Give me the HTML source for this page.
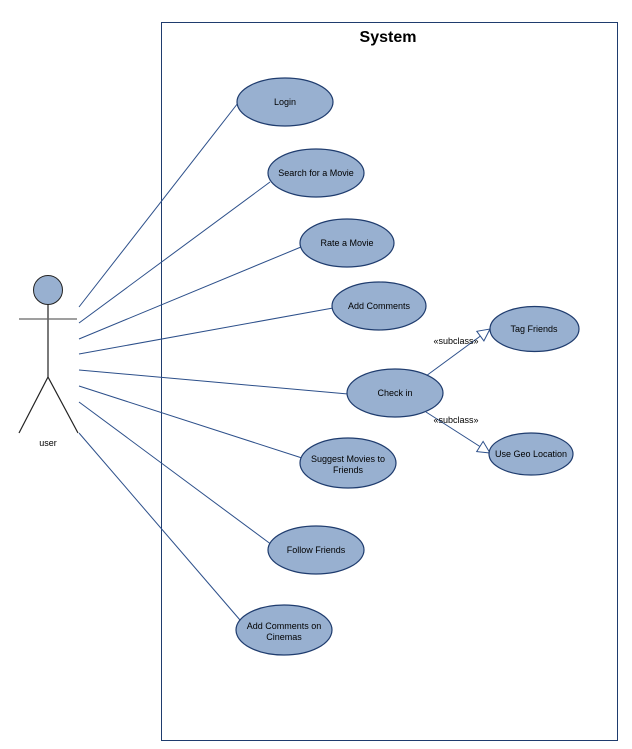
<!DOCTYPE html>
<html><head><meta charset="utf-8"><style>body{margin:0;background:#fff}svg{display:block}</style></head>
<body>
<svg width="632" height="749" viewBox="0 0 632 749" xmlns="http://www.w3.org/2000/svg" font-family="Liberation Sans, sans-serif">
<rect x="161.5" y="22.5" width="456" height="718" fill="#fff" stroke="#1f3c6e" stroke-width="1"/>
<text x="388" y="42" font-size="16" font-weight="bold" text-anchor="middle">System</text>
<g stroke="#2c4f8a" stroke-width="1" fill="none">
<line x1="79" y1="307" x2="238" y2="103"/>
<line x1="79" y1="323" x2="270" y2="182"/>
<line x1="79" y1="339" x2="301" y2="247"/>
<line x1="79" y1="354" x2="333" y2="308"/>
<line x1="79" y1="370" x2="348" y2="394"/>
<line x1="79" y1="386" x2="302" y2="458"/>
<line x1="79" y1="402" x2="272" y2="545"/>
<line x1="79" y1="433" x2="240" y2="620"/>
<line x1="426" y1="376" x2="480.3" y2="336.1"/>
<line x1="426" y1="412" x2="479.9" y2="446.5"/>
</g>
<g fill="#fff" stroke="#2c4f8a" stroke-width="1">
<polygon points="490,329 483.9,340.9 476.8,331.3"/>
<polygon points="490,453 476.7,451.6 483.1,441.4"/>
</g>
<g fill="#98b0d0" stroke="#1f3c6e" stroke-width="1.2">
<ellipse cx="285" cy="102" rx="48" ry="24"/>
<ellipse cx="316" cy="173" rx="48" ry="24"/>
<ellipse cx="347" cy="243" rx="47" ry="24"/>
<ellipse cx="379" cy="306" rx="47" ry="24"/>
<ellipse cx="395" cy="393" rx="48" ry="24"/>
<ellipse cx="534.5" cy="329" rx="44.5" ry="22.5"/>
<ellipse cx="531" cy="454" rx="42" ry="21"/>
<ellipse cx="348" cy="463" rx="48" ry="25"/>
<ellipse cx="316" cy="550" rx="48" ry="24"/>
<ellipse cx="284" cy="630" rx="48" ry="25"/>
</g>
<g font-size="9" text-anchor="middle" fill="#000">
<text x="285" y="105">Login</text>
<text x="316" y="176">Search for a Movie</text>
<text x="347" y="246">Rate a Movie</text>
<text x="379" y="309">Add Comments</text>
<text x="395" y="396">Check in</text>
<text x="534" y="332">Tag Friends</text>
<text x="531" y="457">Use Geo Location</text>
<text x="348" y="462">Suggest Movies to</text>
<text x="348" y="473">Friends</text>
<text x="316" y="553">Follow Friends</text>
<text x="284" y="629">Add Comments on</text>
<text x="284" y="640">Cinemas</text>
<text x="456" y="344">«subclass»</text>
<text x="456" y="423">«subclass»</text>
<text x="48" y="446">user</text>
</g>
<circle cx="48" cy="290" r="14.5" fill="#98b0d0" stroke="#222" stroke-width="1"/>
<g stroke="#222" stroke-width="1.2">
<line x1="48" y1="304.5" x2="48" y2="377"/>
<line x1="19" y1="319" x2="77" y2="319" stroke="#666"/>
<line x1="48" y1="377" x2="19" y2="433"/>
<line x1="48" y1="377" x2="78" y2="433"/>
</g>
</svg>
</body></html>
